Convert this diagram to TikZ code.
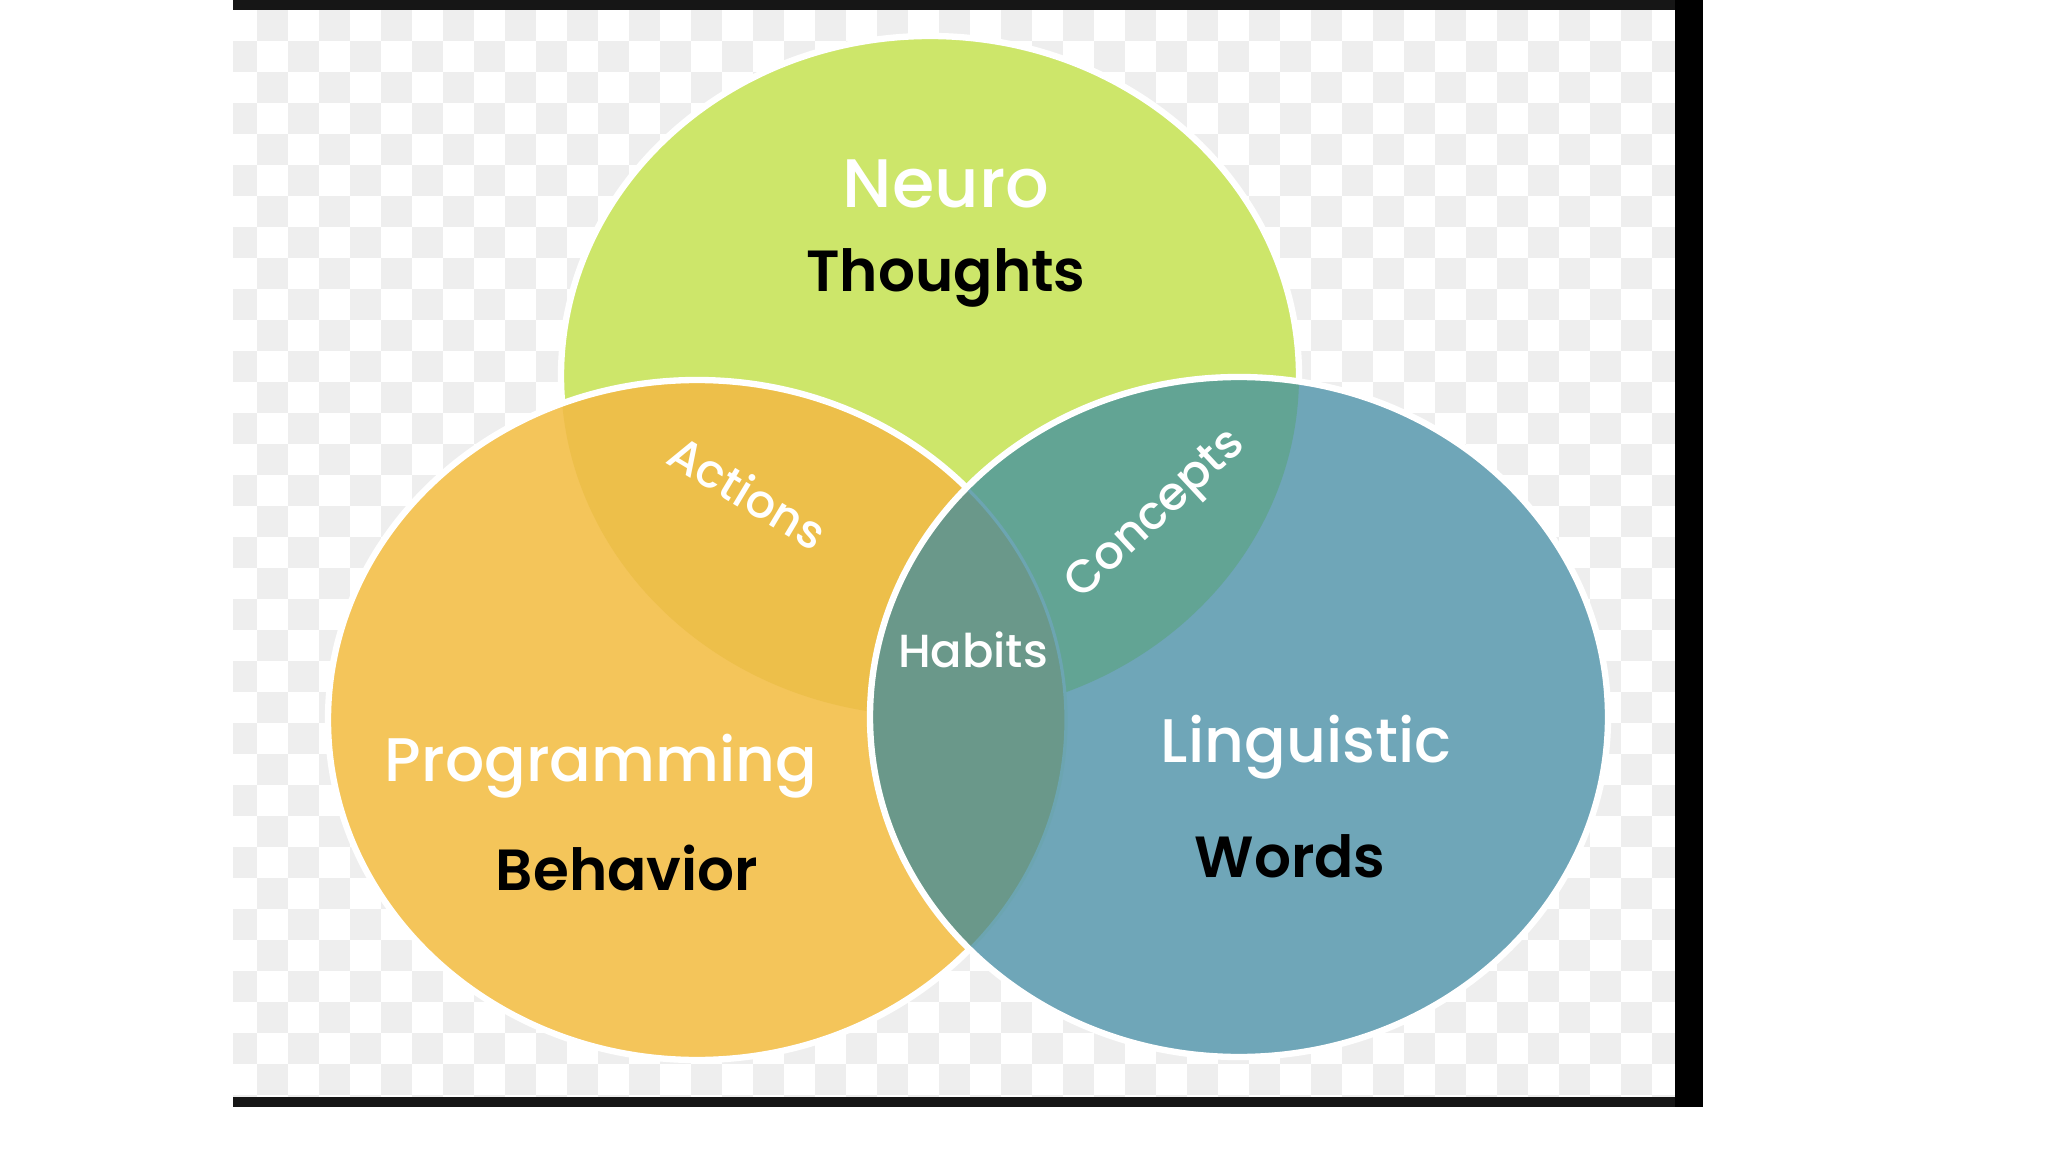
\documentclass[tikz,border=0pt]{standalone}
\usepackage{fontspec}
\setmainfont{Poppins}[BoldFont={Poppins SemiBold}]
\newfontfamily\medfont{Poppins Medium}
\definecolor{neurogreen}{HTML}{CDE66A}
\definecolor{progyellow}{HTML}{F4C55A}
\definecolor{lingblue}{HTML}{6FA6B8}
\definecolor{actcol}{HTML}{EDBF4A}
\definecolor{conccol}{HTML}{62A494}
\definecolor{habcol}{HTML}{6A988A}
\definecolor{checker}{HTML}{EEEEEE}
\definecolor{framebar}{HTML}{161616}
\tikzset{
  ring/.style={draw=white,line width=1.8pt},
  head/.style={font=\medfont\fontsize{17.5}{19}\selectfont,text=white},
  sub/.style={font=\fontsize{16.5}{18}\selectfont\bfseries,text=black},
  small/.style={font=\medfont\fontsize{13.2}{15}\selectfont,text=white},
  oval/.style={x radius=369,y radius=340}
}
\begin{document}
\begin{tikzpicture}[x=0.01cm,y=-0.01cm]
  \useasboundingbox (0,0) rectangle (2048,1152);
  \fill[white] (0,0) rectangle (2048,1152);
  % Schachbrett
  \foreach \i in {0,...,46}{
    \foreach \j in {0,...,35}{
      \pgfmathparse{int(mod(\i+\j,2))}
      \ifnum\pgfmathresult=1
        \fill[checker] ({max(233,226+31*\i)},{10+31*\j}) rectangle ({min(1675,257+31*\i)},{min(1097,41+31*\j)});
      \fi
    }
  }
  % Rahmen
  \fill[framebar] (233,0) rectangle (1703,10);
  \fill[framebar] (233,1097) rectangle (1703,1107);
  \fill[black] (1675,0) rectangle (1703,1107);
  % Mittelpunkte
  \coordinate (gc) at (930,376);
  \coordinate (yc) at (697,720);
  \coordinate (bc) at (1239,717);
  % Neuro
  \fill[neurogreen] (gc) ellipse [oval];
  \draw[ring] (gc) ellipse [oval];
  % Programming
  \fill[progyellow] (yc) ellipse [oval];
  \begin{scope}
    \clip (yc) ellipse [oval];
    \fill[actcol] (gc) ellipse [oval];
  \end{scope}
  \draw[ring] (yc) ellipse [oval];
  % Linguistic
  \fill[lingblue] (bc) ellipse [oval];
  \begin{scope}
    \clip (bc) ellipse [oval];
    \fill[conccol] (gc) ellipse [oval];
    \fill[habcol] (yc) ellipse [oval];
    \draw[lingblue!80!conccol,line width=0.9pt] (yc) ellipse [oval];
  \end{scope}
  \draw[ring] (bc) ellipse [oval];
  % Beschriftungen
  \node[head,font=\medfont\fontsize{19.5}{21}\selectfont] (neuro) at (946,184) {Neuro};
  \node[sub] (thoughts) at (946,278) {Thoughts};
  \node[head] (prog) at (601,766) {Programming};
  \node[sub] (behav) at (627,868) {Behavior};
  \node[head] (ling) at (1306,747) {Linguistic};
  \node[sub] (words) at (1290,856) {Words};
  \node[small] (habits) at (973,650) {Habits};
  \node[small,rotate=-31] (actions) at (748,492) {Actions};
  \node[small,rotate=43] (concepts) at (1157,516) {Concepts};
\end{tikzpicture}
\end{document}
